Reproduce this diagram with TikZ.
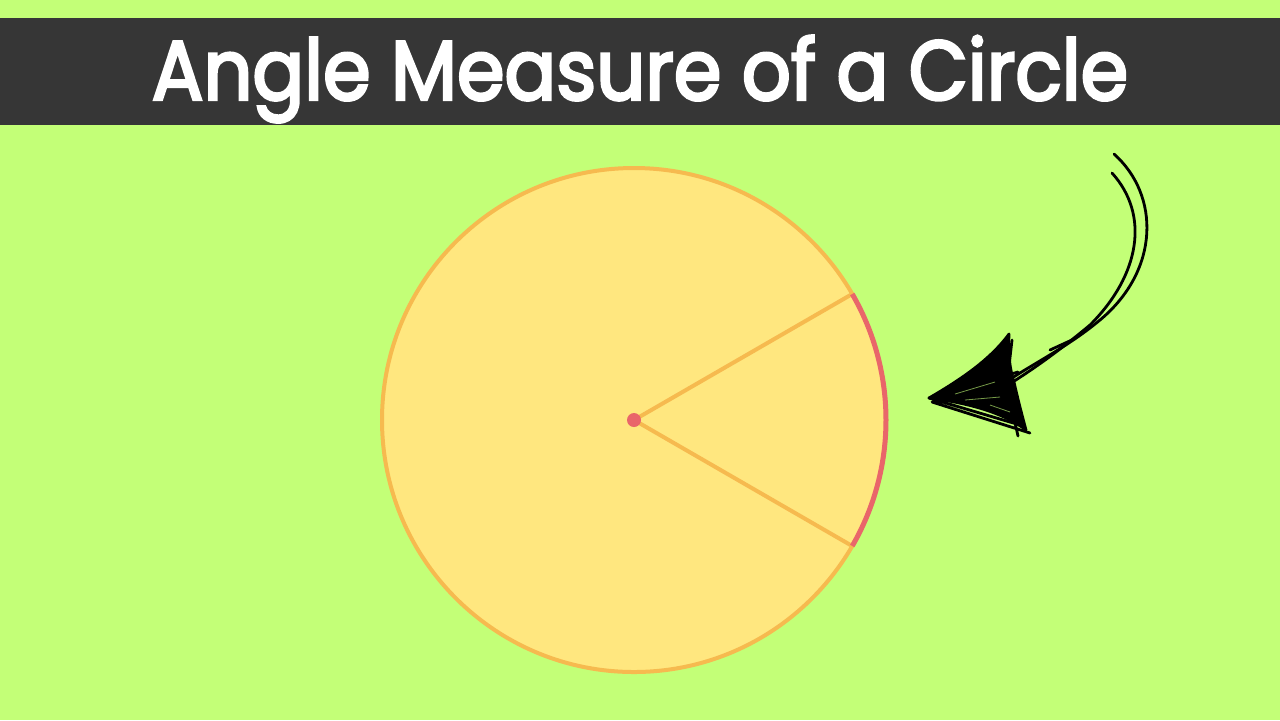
\documentclass[tikz,border=0pt]{standalone}
\usepackage{fontspec}
\usetikzlibrary{calc}
\newfontfamily\titlefont{Poppins}[FakeBold=3.5]
\definecolor{bggreen}{HTML}{C3FF77}
\definecolor{banner}{HTML}{363636}
\definecolor{discfill}{HTML}{FFE77F}
\definecolor{discline}{HTML}{F6BA4F}
\definecolor{arcred}{HTML}{E9666A}
\tikzset{
  rim/.style={draw=discline, line width=2pt},
  spoke/.style={draw=discline, line width=2pt, line cap=round},
  redarc/.style={draw=arcred, line width=2.5pt},
  scribble/.style={draw=black, line width=1.4pt, line cap=round, line join=round},
}
\begin{document}
\begin{tikzpicture}[x=0.5pt, y=-0.5pt]
      \fill[bggreen] (0,0) rectangle (1280,720);
      \useasboundingbox (0,0) rectangle (1280,720);
      \fill[banner] (0,18) rectangle (1280,125);
      \node[text=white, font=\titlefont\fontsize{42}{48}\selectfont] (title) at (640,79) {\scalebox{0.912}[1]{Angle Measure of a Circle}};
      %
      \coordinate (O) at (634,420);
      \coordinate (A) at ($(O)+(-30:252)$);
      \coordinate (B) at ($(O)+(30:252)$);
      \draw[rim, fill=discfill] (O) circle (252);
      \draw[spoke] (A) -- (O) -- (B);
      \draw[redarc] (A) arc (-30:30:252);
      \fill[arcred] (O) circle (7);
      %
      \coordinate (tip) at (929,398);
      \coordinate (wingT) at (1009,334);
      \coordinate (wingB) at (1026,430);
      \coordinate (notch) at (1014,382);
      \draw[scribble] (1114,154) .. controls (1160,195) and (1160,270) .. (1100,320)
        .. controls (1070,345) and (1040,360) .. (1012,378);
      \draw[scribble] (1112,173) .. controls (1150,215) and (1140,275) .. (1090,325)
        .. controls (1060,350) and (1035,368) .. (1008,385);
      \draw[scribble] (1050,350) -- (1074,339);
      \fill[black] (tip) .. controls (960,380) and (990,360) .. (wingT)
        .. controls (1008,355) and (1010,370) .. (notch)
        .. controls (1018,400) and (1022,415) .. (wingB)
        .. controls (1000,410) and (960,402) .. cycle;
      \draw[scribble] (tip) .. controls (960,380) and (990,360) .. (wingT)
        .. controls (1008,355) and (1010,370) .. (notch)
        .. controls (1018,400) and (1022,415) .. (wingB)
        .. controls (1000,410) and (960,402) .. cycle;
      \draw[scribble] (tip) -- (1018,372) (tip) -- (1020,425) (932,402) -- (1030,433)
        (1012,340) -- (1004,410) (1018,436) -- (1010,400);
      \draw[bggreen!60!black, line width=0.4pt] (955,394) -- (995,382) (965,400) -- (1000,397) (990,405) -- (1010,412);
\end{tikzpicture}
\end{document}
